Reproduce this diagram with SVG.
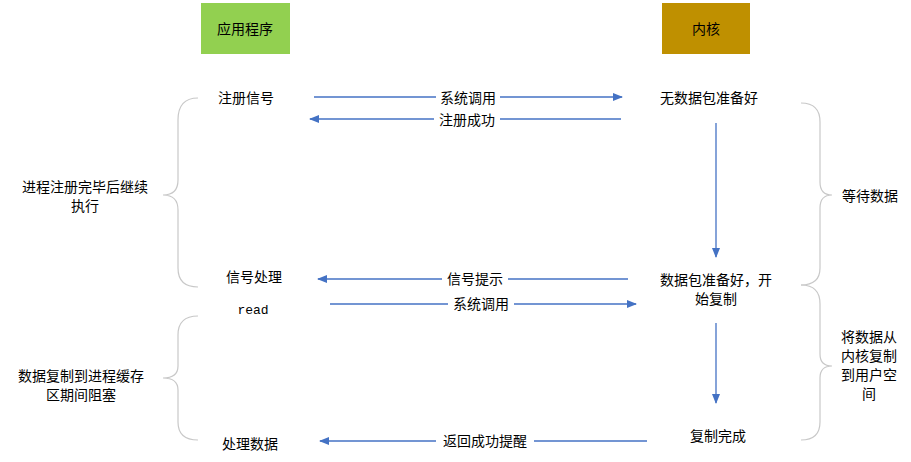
<svg xmlns="http://www.w3.org/2000/svg" width="911" height="462" viewBox="0 0 911 462">
<defs>
<marker id="ah" viewBox="0 0 10 10" refX="9" refY="5" markerWidth="10" markerHeight="10" markerUnits="userSpaceOnUse" orient="auto"><path d="M0,1 L10,5 L0,9 z" fill="#4472c4"/></marker>
<style>
text{font-family:"Noto Sans CJK SC","Liberation Sans",sans-serif;font-size:14px;fill:#000;text-anchor:middle}
.mono{font-family:"Liberation Mono",monospace;font-size:13px}
.ln{stroke:#4472c4;stroke-width:1.3;fill:none;marker-end:url(#ah)}
.br{stroke:#c8c8c8;stroke-width:1.2;fill:none}
.lbl{fill:#fff}
</style>
</defs>
<rect width="911" height="462" fill="#fff"/>
<g id="app"><rect x="201" y="3" width="89" height="51" fill="#92d050"/><text x="245" y="34">应用程序</text></g>
<g id="kernel"><rect x="662" y="3" width="88" height="51" fill="#bf9000"/><text x="706" y="34">内核</text></g>
<g id="n1"><text x="246" y="103">注册信号</text></g>
<g id="n2"><text x="254" y="282">信号处理</text></g>
<g id="n3"><text class="mono" x="253" y="314">read</text></g>
<g id="n4"><text x="250" y="449">处理数据</text></g>
<g id="k1"><text x="709" y="103">无数据包准备好</text></g>
<g id="k2"><text x="716" y="285">数据包准备好，开</text><text x="716" y="304">始复制</text></g>
<g id="k3"><text x="718" y="441">复制完成</text></g>
<g id="b1"><path class="br" d="M198,98 Q178,98 178,120 L178,180 Q178,195 163,195 Q178,195 178,210 L178,268 Q178,287 198,287"/><text x="85" y="192">进程注册完毕后继续</text><text x="85" y="211">执行</text></g>
<g id="b2"><path class="br" d="M198,316 Q178,316 178,335 L178,366 Q178,378 163,378 Q178,378 178,390 L178,422 Q178,440 198,440"/><text x="81" y="381">数据复制到进程缓存</text><text x="81" y="400">区期间阻塞</text></g>
<g id="b3"><path class="br" d="M801,103 Q820,103 820,122 L820,182 Q820,195 832,195 Q820,195 820,208 L820,268 Q820,285 801,285"/><text x="870" y="201">等待数据</text></g>
<g id="b4"><path class="br" d="M801,285 Q820,285 820,304 L820,354 Q820,366 832,366 Q820,366 820,378 L820,422 Q820,440 801,440"/><text x="869" y="342">将数据从</text><text x="869" y="361">内核复制</text><text x="869" y="380">到用户空</text><text x="869" y="399">间</text></g>
<g id="connectors">
<path class="ln" d="M314,97 H622"/><rect class="lbl" x="436" y="89" width="64" height="17"/><text x="468" y="103">系统调用</text>
<path class="ln" d="M621,119 H310"/><rect class="lbl" x="434" y="111" width="66" height="17"/><text x="467" y="125">注册成功</text>
<path class="ln" d="M716,123 V257"/>
<path class="ln" d="M628,279 H318"/><rect class="lbl" x="442" y="270" width="66" height="17"/><text x="475" y="284">信号提示</text>
<path class="ln" d="M330,304 H636"/><rect class="lbl" x="448" y="295" width="66" height="17"/><text x="481" y="309">系统调用</text>
<path class="ln" d="M716,323 V403"/>
<path class="ln" d="M647,441 H320"/><rect class="lbl" x="436" y="432" width="98" height="17"/><text x="485" y="446">返回成功提醒</text>
</g>
</svg>
